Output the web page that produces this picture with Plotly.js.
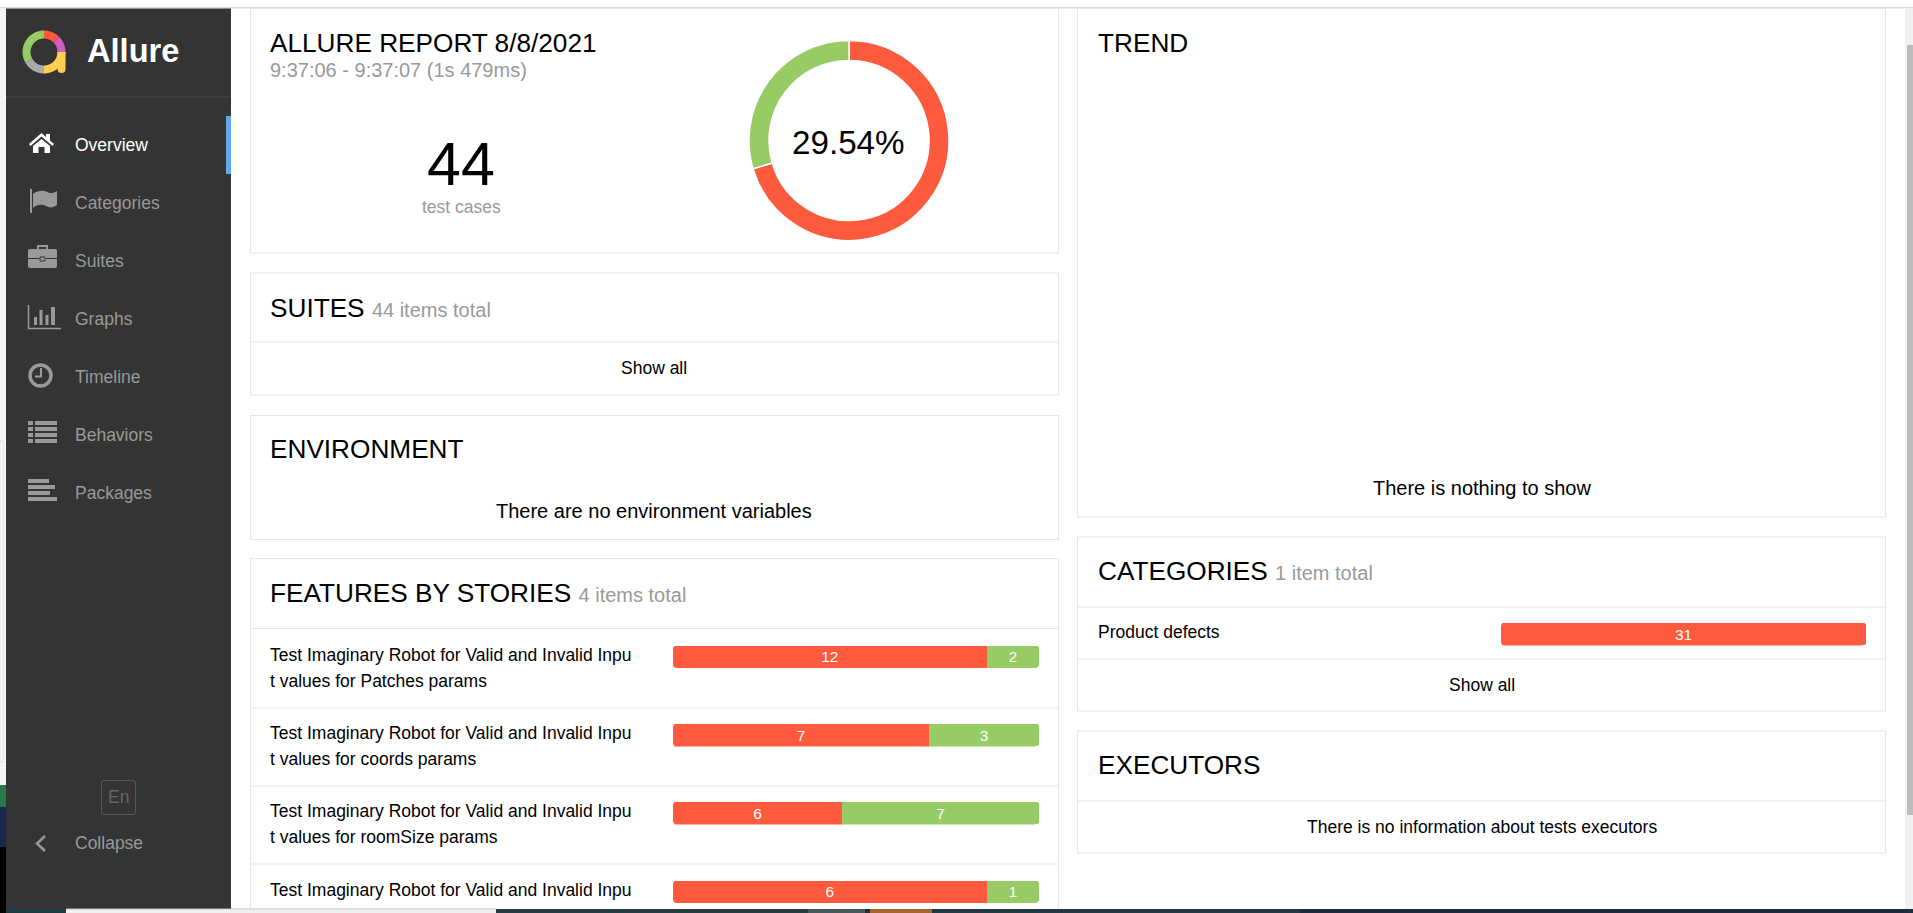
<!DOCTYPE html>
<html>
<head>
<meta charset="utf-8">
<title>Allure</title>
<script src="https://cdn.plot.ly/plotly-3.0.1.min.js"></script>
<style>html,body{margin:0;padding:0;background:#fff;overflow:hidden}#chart{width:1913px;height:913px}</style>
</head>
<body>
<div id="chart"></div>
<script>
// ---- data ----
const donutLabels = ['Failed', 'Passed'];
const donutValues = [31, 13];
const donutCenterLabel = '29.54%';
const testCaseCount = '44';
const storyFirstLines = [
  'Test Imaginary Robot for Valid and Invalid Inpu',
  'Test Imaginary Robot for Valid and Invalid Inpu',
  'Test Imaginary Robot for Valid and Invalid Inpu',
  'Test Imaginary Robot for Valid and Invalid Inpu'
];
const storySecondLines = [
  't values for Patches params',
  't values for coords params',
  't values for roomSize params',
  ''
];
const storyFailed = [12, 7, 6, 6];
const storyPassed = [2, 3, 7, 1];
const categoryNames = ['Product defects'];
const categoryCounts = [31];
const navLabels = ['Overview', 'Categories', 'Suites', 'Graphs', 'Timeline', 'Behaviors', 'Packages'];

// ---- page geometry helpers (pixel -> paper) ----
const W = 1913, H = 913;
const RED = '#fd5a3e', GREEN = '#97cc64', GREY = '#999999', SIDE = '#343434', BORDER = '#e5e5e5';
const FONT = '"Liberation Sans", Arial, sans-serif';
const px = v => v / W, py = v => 1 - v / H;
const conv = s => s.replace(/(-?\d+\.?\d*),(-?\d+\.?\d*)/g, (m, a, b) => px(+a).toFixed(6) + ',' + py(+b).toFixed(6));
const shapes = [], annotations = [];

function rect(x0, y0, x1, y1, fill, line, lw) {
  shapes.push({type: 'rect', xref: 'paper', yref: 'paper', x0: px(x0), x1: px(x1), y0: py(y0), y1: py(y1), layer: 'below',
    fillcolor: fill || 'rgba(0,0,0,0)', line: {width: line ? (lw || 1) : 0, color: line || 'rgba(0,0,0,0)'}});
}
function path(d, fill, line, lw, layer) {
  shapes.push({type: 'path', xref: 'paper', yref: 'paper', path: conv(d), layer: layer || 'below',
    fillcolor: fill || 'rgba(0,0,0,0)', line: {width: line ? (lw || 1) : 0, color: line || 'rgba(0,0,0,0)'}});
}
function hline(x0, x1, y, color, lw) { path(`M${x0},${y} L${x1},${y}`, null, color || BORDER, lw || 1); }
function label(x, base, text, size, color, anchor, bold) {
  annotations.push({xref: 'paper', yref: 'paper', x: px(x), y: py(base - 0.3465 * size), text: bold ? '<b>' + text + '</b>' : text,
    showarrow: false, xanchor: anchor || 'left', yanchor: 'middle', borderpad: 0, borderwidth: 0,
    font: {family: FONT, size: size, color: color || '#000'}});
}
function arc(cx, cy, R, r, a0, a1, color) {
  const pts = [], n = 24;
  for (let i = 0; i <= n; i++) { const a = (a0 + (a1 - a0) * i / n) * Math.PI / 180; pts.push([cx + R * Math.sin(a), cy - R * Math.cos(a)]); }
  for (let i = n; i >= 0; i--) { const a = (a0 + (a1 - a0) * i / n) * Math.PI / 180; pts.push([cx + r * Math.sin(a), cy - r * Math.cos(a)]); }
  path('M' + pts.map(p => p[0].toFixed(2) + ',' + p[1].toFixed(2)).join(' L') + ' Z', color);
}

// ---- window surroundings ----
rect(0, 0, W, 7.5, '#ffffff');
rect(0, 7, W, 8.5, '#dddddd');
rect(0, 8.5, 6, 785, '#f5f5f5');
rect(0, 441, 3, 762, '#ffffff', '#dcdcdc', 1);
rect(0, 785, 6, 807, '#27794c');
rect(0, 807, 6, 847, '#15294f');
rect(0, 847, 6, 913, '#000000');
rect(1905, 8.5, W, 909, '#f1f1f1');
rect(1907, 45, W, 815, '#bdbdbd');

// ---- sidebar ----
rect(6, 8.5, 231, 909, SIDE);
rect(6, 96.5, 231, 97.5, '#4a4a4a');
rect(226, 116, 231, 174, '#5ea8ee');
arc(44, 52, 21.5, 13.5, 0, 45, RED);
arc(44, 52, 21.5, 13.5, 45, 90, '#d35ebe');
arc(44, 52, 21.5, 13.5, 90, 180, '#ffd050');
arc(44, 52, 21.5, 13.5, 180, 240, '#aaaaaa');
arc(44, 52, 21.5, 13.5, 240, 360, GREEN);
path('M57.5,52 L65.5,52 L65.5,69 Q65.5,73 61.5,73 Q57.5,73 57.5,69 Z', '#ffd050');
label(87, 62, 'Allure', 32.6, '#ffffff', 'left', true);

const navBase = [151, 209, 267, 325, 383, 441, 499];
navLabels.forEach((t, i) => label(75, navBase[i], t, 17.5, i === 0 ? '#ffffff' : GREY));
// home
path('M29,144 L41.5,133 L46,137 L46,134 L50,134 L50,140.5 L54,144 L52.5,146 L41.5,136.5 L30.5,146 Z', '#ffffff');
path('M33,146 L41.5,139 L50,146 L50,153 L44.5,153 L44.5,147 L38.5,147 L38.5,153 L33,153 Z', '#ffffff');
// flag
rect(30, 189, 32, 213, GREY);
path('M33,194 C38,190 44,190 47,192 C50,194 54,193 57,191 L57,205 C53,208 49,208 46,206 C42,204 37,204 33,208 Z', GREY);
// briefcase
path('M30,249 L55,249 Q57,249 57,251 L57,266 Q57,268 55,268 L30,268 Q28,268 28,266 L28,251 Q28,249 30,249 Z', GREY);
path('M38,249 L38,246 L47,246 L47,249', null, GREY, 2);
path('M28,258.5 L39,258.5 M46,258.5 L57,258.5', null, SIDE, 1);
path('M40,257 L45,257 L45,261 L40,261 Z', null, SIDE, 1);
// graphs
path('M28.5,305 L28.5,328.5 L61,328.5', null, GREY, 1.5);
rect(34, 317, 37, 325, GREY); rect(39.5, 310, 42.5, 325, GREY); rect(45.5, 315, 48.5, 325, GREY); rect(51, 307, 55, 325, GREY);
// timeline
shapes.push({type: 'circle', xref: 'paper', yref: 'paper', layer: 'below', x0: px(30), x1: px(51), y0: py(365), y1: py(386),
  fillcolor: 'rgba(0,0,0,0)', line: {color: GREY, width: 3.5}});
path('M41,368 L41,376.5 L35,376.5', null, GREY, 2);
// behaviors
[[421, 425], [427, 431], [433, 437], [439, 443]].forEach(r => { rect(28, r[0], 33, r[1], GREY); rect(35, r[0], 57, r[1], GREY); });
// packages
[[479, 483, 49], [485, 489, 55], [491, 495, 50], [497, 501, 57]].forEach(r => rect(28, r[0], r[2], r[1], GREY));
// language + collapse
path('M104,780.5 L133,780.5 Q135.5,780.5 135.5,783 L135.5,812 Q135.5,814.5 133,814.5 L104,814.5 Q101.5,814.5 101.5,812 L101.5,783 Q101.5,780.5 104,780.5 Z', null, '#595959', 1);
label(118.5, 803, 'En', 17.5, '#666666', 'center');
path('M45,836 L37,843.5 L45,851', null, GREY, 2.5);
label(75, 849, 'Collapse', 17.5, GREY);

// ---- cards ----
const LX0 = 250.5, LX1 = 1058.5, RX0 = 1077.5, RX1 = 1885.5;
[[LX0, 8.5, LX1, 253], [LX0, 273, LX1, 395], [LX0, 415.5, LX1, 539.5], [LX0, 558.5, LX1, 915],
 [RX0, 8.5, RX1, 517], [RX0, 537, RX1, 711], [RX0, 731, RX1, 853]].forEach(c => rect(c[0], c[1], c[2], c[3], '#ffffff', BORDER, 1.2));
// bottom window strip, over the cards
rect(6, 909, 66, 913, '#1f3a40');
rect(66, 909, 496, 913, '#f0f0f0'); rect(66, 908.5, 496, 909.5, '#c4c4c4');
rect(496, 909, 808, 913, '#263c44'); rect(808, 909, 865, 913, '#47585f'); rect(865, 909, 870, 913, '#1f2f38');
rect(870, 909, 932, 913, '#a5652f'); rect(932, 909, 1300, 913, '#233a44'); rect(1300, 909, W, 913, '#1c2b40');
hline(LX0, LX1, 342);
[628.5, 708, 786, 864].forEach(y => hline(LX0, LX1, y));
[607, 659, 801].forEach(y => hline(RX0, RX1, y));

const sub = t => ` <span style="font-size:20px;color:#999999">${t}</span>`;
label(270, 52, 'ALLURE REPORT 8/8/2021', 26.2);
label(270, 76.5, '9:37:06 - 9:37:07 (1s 479ms)', 20, GREY);
label(461, 185, testCaseCount, 61, '#000000', 'center');
label(461.5, 213, 'test cases', 17.5, GREY, 'center');
label(848.3, 154, donutCenterLabel, 33.2, '#000000', 'center');
label(270, 317, 'SUITES' + sub('44 items total'), 26.2);
label(654, 374.5, 'Show all', 17.5, '#000000', 'center');
label(270, 458, 'ENVIRONMENT', 26.2);
label(654, 518, 'There are no environment variables', 20, '#000000', 'center');
label(270, 602, 'FEATURES BY STORIES' + sub('4 items total'), 26.2);
label(1098, 52, 'TREND', 26.2);
label(1482, 495, 'There is nothing to show', 20, '#000000', 'center');
label(1098, 580.5, 'CATEGORIES' + sub('1 item total'), 26.2);
label(1098, 638.5, categoryNames[0], 17.5);
label(1482, 691.5, 'Show all', 17.5, '#000000', 'center');
label(1098, 774, 'EXECUTORS', 26.2);
label(1482, 833.5, 'There is no information about tests executors', 17.5, '#000000', 'center');

const storyBase = [[661.5, 687.5], [739.5, 765.5], [817.5, 843.5], [896.5, null]];
storyFirstLines.forEach((t, i) => {
  label(270, storyBase[i][0], t, 17.5);
  if (storySecondLines[i]) label(270, storyBase[i][1], storySecondLines[i], 17.5);
});

// ---- traces ----
const traces = [{
  type: 'pie', labels: donutLabels, values: donutValues, hole: 0.8, sort: false, direction: 'clockwise', rotation: 0,
  marker: {colors: [RED, GREEN], line: {color: '#ffffff', width: 1.5}}, textinfo: 'none', hoverinfo: 'none', showlegend: false,
  domain: {x: [px(749), px(949)], y: [py(240.5), py(40.5)]}
}];
const layout = {
  width: W, height: H, margin: {l: 0, r: 0, t: 0, b: 0, pad: 0}, paper_bgcolor: '#ffffff', plot_bgcolor: 'rgba(0,0,0,0)',
  showlegend: false, barmode: 'stack', bargap: 0, barcornerradius: 4, shapes: shapes, annotations: annotations, font: {family: FONT}
};
function addBarRow(idx, name, series, xBox, yBox) {
  const xa = 'x' + idx, ya = 'y' + idx;
  let total = 0;
  series.forEach(s => { total += s.value; });
  series.forEach(s => traces.push({
    type: 'bar', orientation: 'h', x: [s.value], y: [name], xaxis: xa, yaxis: ya, name: s.name,
    text: [String(s.value)], textposition: 'inside', insidetextanchor: 'middle', textangle: 0, constraintext: 'none', cliponaxis: false,
    textfont: {family: FONT, size: 15.5, color: '#ffffff'}, marker: {color: s.color, line: {width: 0}}, hoverinfo: 'none'
  }));
  layout['xaxis' + idx] = {domain: [px(xBox[0]), px(xBox[1])], range: [0, total], anchor: ya, visible: false, fixedrange: true};
  layout['yaxis' + idx] = {domain: [py(yBox[1]), py(yBox[0])], anchor: xa, visible: false, fixedrange: true, type: 'category'};
  // the library rounds only the outer end of a stack: soften the start end with small page-coloured corners
  const x = xBox[0], t = yBox[0], b = yBox[1], r = 4;
  path(`M${x},${t} L${x + r},${t} Q${x},${t} ${x},${t + r} Z`, '#ffffff', null, 0, 'above');
  path(`M${x},${b} L${x + r},${b} Q${x},${b} ${x},${b - r} Z`, '#ffffff', null, 0, 'above');
}
const storyRows = [[645.5, 668], [723.5, 746.5], [801.5, 824.5], [880.5, 903]];
storyFailed.forEach((f, i) => addBarRow(i + 1, 'story ' + (i + 1),
  [{name: 'Failed', value: f, color: RED}, {name: 'Passed', value: storyPassed[i], color: GREEN}], [673, 1039], storyRows[i]));
addBarRow(5, categoryNames[0], [{name: 'Failed', value: categoryCounts[0], color: RED}], [1501, 1866], [622.5, 645.5]);

Plotly.newPlot('chart', traces, layout, {displayModeBar: false, staticPlot: true, responsive: false});
</script>
</body>
</html>
